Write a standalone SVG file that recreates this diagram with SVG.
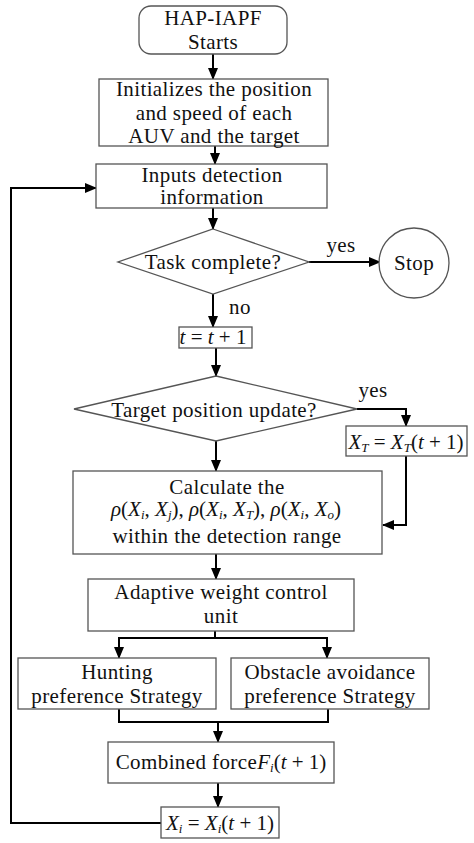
<svg xmlns="http://www.w3.org/2000/svg" width="474" height="843" viewBox="0 0 474 843">
<defs>
<style>
.box{fill:#fff;stroke:#555;stroke-width:1.3}
.t{font-family:"Liberation Serif","Times New Roman",serif;font-size:21px;letter-spacing:0.4px;fill:#111;text-anchor:middle}
.m{font-family:"Liberation Serif","Times New Roman",serif;font-size:21px;fill:#111;text-anchor:middle}
.i{font-style:italic}
.c{fill:none;stroke:#000;stroke-width:2}
.ca{fill:none;stroke:#000;stroke-width:2;marker-end:url(#ah)}
</style>
<marker id="ah" markerUnits="userSpaceOnUse" markerWidth="12" markerHeight="12" viewBox="0 0 12 12" refX="11" refY="6" orient="auto">
<path d="M0,1 L12,6 L0,11 Z" fill="#000"/>
</marker>
</defs>
<rect width="474" height="843" fill="#fff"/>

<g id="connectors">
<line class="ca" x1="213" y1="54" x2="213" y2="79"/>
<line class="ca" x1="215" y1="146" x2="215" y2="164"/>
<line class="ca" x1="213" y1="208" x2="213" y2="229"/>
<line class="ca" x1="309" y1="262" x2="380" y2="262"/>
<line class="ca" x1="213" y1="294" x2="213" y2="327"/>
<line class="ca" x1="216" y1="348" x2="216" y2="376"/>
<polyline class="ca" points="357,409 406,409 406,426"/>
<line class="ca" x1="216" y1="441" x2="216" y2="471"/>
<polyline class="ca" points="406,456 406,525 383,525"/>
<line class="ca" x1="216" y1="554" x2="216" y2="579"/>
<line class="c" x1="215" y1="631" x2="215" y2="638"/>
<polyline class="ca" points="119,638 119,658"/>
<polyline class="ca" points="327,638 327,658"/>
<line class="c" x1="118" y1="638" x2="328" y2="638"/>
<polyline class="c" points="119,709 119,722 328,722 328,709"/>
<line class="ca" x1="218" y1="722" x2="218" y2="742"/>
<line class="ca" x1="218" y1="783" x2="218" y2="807"/>
<polyline class="ca" points="161,823 11,823 11,188 96,188"/>
</g>

<g id="start">
<rect class="box" x="139" y="6" width="148" height="48" rx="12"/>
<text class="t" x="213" y="25">HAP-IAPF</text>
<text class="t" x="213" y="49">Starts</text>
</g>

<g id="init">
<rect class="box" x="99" y="79" width="229" height="67"/>
<text class="t" x="214" y="96">Initializes the position</text>
<text class="t" x="214" y="120">and speed of each</text>
<text class="t" x="214" y="143">AUV and the target</text>
</g>

<g id="inputs">
<rect class="box" x="96" y="164" width="231" height="44"/>
<text class="t" x="212" y="182">Inputs detection</text>
<text class="t" x="212" y="204">information</text>
</g>

<g id="task">
<polygon class="box" points="213,229 309,262 213,294 118,262"/>
<text class="t" x="213" y="269">Task complete?</text>
</g>
<text class="t" x="341" y="252">yes</text>

<g id="stop">
<circle class="box" cx="414" cy="263" r="35"/>
<text class="t" x="414" y="270">Stop</text>
</g>

<text class="t" x="240" y="314">no</text>

<g id="tinc">
<rect class="box" x="179" y="327" width="73" height="21"/>
<text class="m" x="213" y="344"><tspan class="i">t</tspan> = <tspan class="i">t</tspan> + 1</text>
</g>

<g id="target">
<polygon class="box" points="216,376 357,409 216,441 74,409"/>
<text class="t" x="214" y="417">Target position update?</text>
</g>
<text class="t" x="373" y="397">yes</text>

<g id="xt">
<rect class="box" x="346" y="426" width="121" height="30"/>
<text class="m" x="406" y="449"><tspan class="i">X</tspan><tspan class="i" font-size="13" dy="3">T</tspan><tspan dy="-3"> = </tspan><tspan class="i">X</tspan><tspan class="i" font-size="13" dy="3">T</tspan><tspan dy="-3">(</tspan><tspan class="i">t</tspan> + 1)</text>
</g>

<g id="calc">
<rect class="box" x="73" y="471" width="309" height="83"/>
<text class="t" x="227" y="494">Calculate the</text>
<text class="m" x="226" y="516"><tspan class="i">ρ</tspan>(<tspan class="i">X</tspan><tspan class="i" font-size="13" dy="3">i</tspan><tspan dy="-3">, </tspan><tspan class="i">X</tspan><tspan class="i" font-size="13" dy="3">j</tspan><tspan dy="-3">), </tspan><tspan class="i">ρ</tspan>(<tspan class="i">X</tspan><tspan class="i" font-size="13" dy="3">i</tspan><tspan dy="-3">, </tspan><tspan class="i">X</tspan><tspan class="i" font-size="13" dy="3">T</tspan><tspan dy="-3">), </tspan><tspan class="i">ρ</tspan>(<tspan class="i">X</tspan><tspan class="i" font-size="13" dy="3">i</tspan><tspan dy="-3">, </tspan><tspan class="i">X</tspan><tspan class="i" font-size="13" dy="3">o</tspan><tspan dy="-3">)</tspan></text>
<text class="t" x="227" y="543">within the detection range</text>
</g>

<g id="adaptive">
<rect class="box" x="88" y="579" width="266" height="52"/>
<text class="t" x="221" y="599">Adaptive weight control</text>
<text class="t" x="221" y="623">unit</text>
</g>

<g id="hunting">
<rect class="box" x="18" y="658" width="198" height="51"/>
<text class="t" x="117" y="679">Hunting</text>
<text class="t" x="117" y="703">preference Strategy</text>
</g>

<g id="obstacle">
<rect class="box" x="231" y="658" width="198" height="51"/>
<text class="t" x="330" y="679">Obstacle avoidance</text>
<text class="t" x="330" y="703">preference Strategy</text>
</g>

<g id="combined">
<rect class="box" x="108" y="742" width="226" height="41"/>
<text class="m" x="221" y="769"><tspan letter-spacing="0.4">Combined force</tspan><tspan class="i">F</tspan><tspan class="i" font-size="13" dy="3">i</tspan><tspan dy="-3">(</tspan><tspan class="i">t</tspan> + 1)</text>
</g>

<g id="xi">
<rect class="box" x="161" y="807" width="118" height="31"/>
<text class="m" x="220" y="830"><tspan class="i">X</tspan><tspan class="i" font-size="13" dy="3">i</tspan><tspan dy="-3"> = </tspan><tspan class="i">X</tspan><tspan class="i" font-size="13" dy="3">i</tspan><tspan dy="-3">(</tspan><tspan class="i">t</tspan> + 1)</text>
</g>
</svg>
